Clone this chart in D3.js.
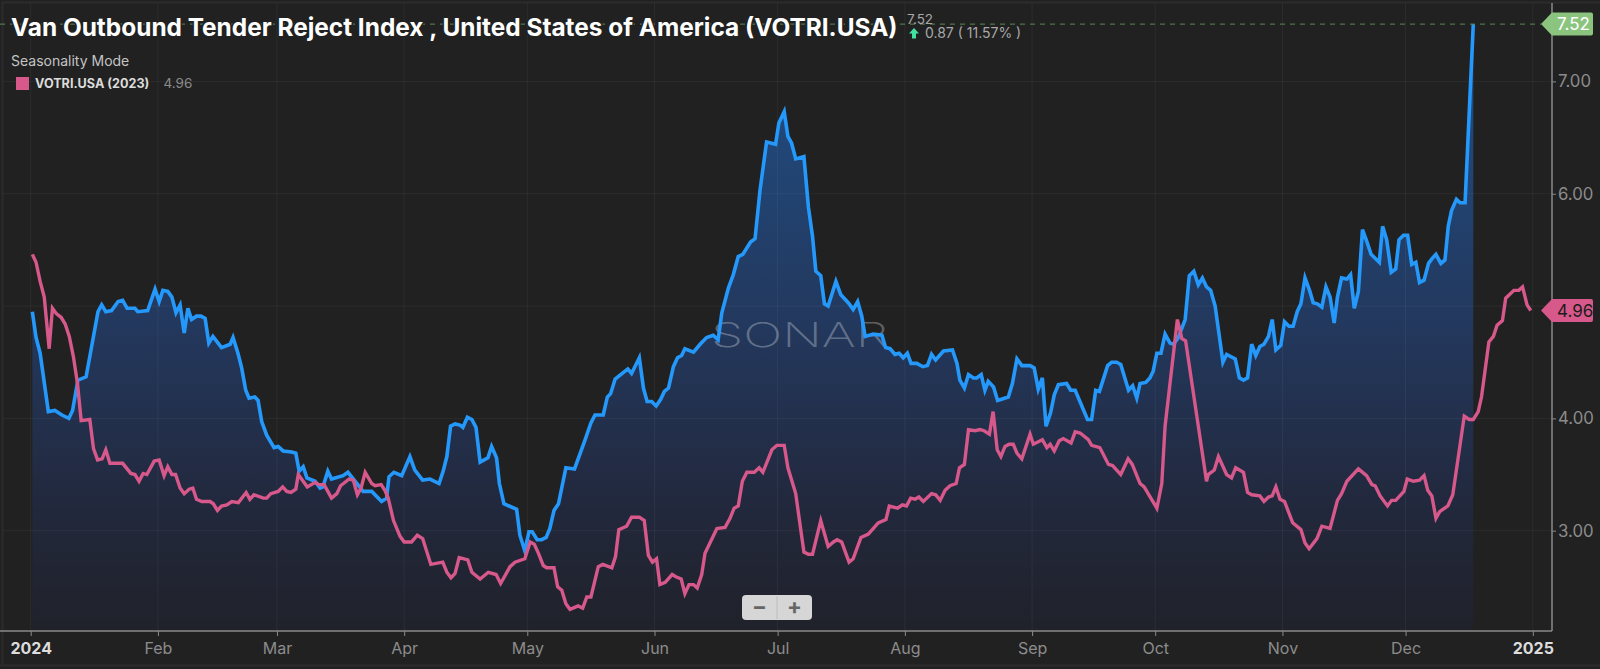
<![CDATA[<!DOCTYPE html>
<html>

<head>
    <meta charset="utf-8">
    <script src="https://cdnjs.cloudflare.com/ajax/libs/d3/7.8.5/d3.min.js"></script>
    <style>
        html, body {
            margin: 0;
            padding: 0;
            background: #212121;
            overflow: hidden;
        }

        text {
            font-family: Inter, Roboto, sans-serif;
        }

        .axis .domain {
            stroke: #8a8a8a;
            stroke-width: 1.5;
        }

        .axis .tick line {
            stroke: #8a8a8a;
        }

        .axis .tick text {
            fill: #8c8c8c;
            font-size: 16px;
        }

        .yaxis .tick text {
            font-size: 16.8px;
        }
    </style>
</head>

<body>
    <div id="chartContainer"></div>
    <script type="text/javascript">
        // values read off the picture, days are counted from 1 Jan 2024
        var blueDays = [0.4, 1.3, 2.3, 4.3, 5.9, 7.6, 9.3, 10.2, 11.5, 13.5, 16.4, 17.3, 18.3, 19.7, 21.3, 22.4, 23.5, 25.4, 26.1, 28.5, 30.3, 31.3, 32.2, 33.4, 34.4, 35.4, 36.4, 37.4, 38.3, 39.2, 40.4, 41.5, 42.5, 43.4, 44.4, 46.5, 48.6, 49.3, 50.5, 51.4, 52.4, 53.2, 54.6, 55.4, 56.3, 57.5, 59.3, 60.3, 61.5, 63.6, 64.6, 65.4, 66.4, 67.3, 69.3, 70.5, 71.2, 72.4, 73.3, 76.1, 77.3, 81, 83.1, 85.5, 86.7, 87.3, 88.5, 90.4, 92.4, 93.6, 95.5, 97.3, 99.5, 100.5, 101.4, 102.3, 103.4, 104.6, 105.3, 106.4, 107.5, 108.5, 109.5, 111.4, 112.3, 113.5, 114.2, 115.3, 118.4, 119.2, 120.4, 121.4, 122.2, 123.4, 124.5, 125.6, 126.5, 127.5, 128.6, 130.4, 132.5, 135.1, 136.5, 137.5, 139.5, 140.5, 141.3, 142.4, 145.5, 146.4, 148.3, 149.3, 150.2, 151.3, 152.4, 153.5, 154.4, 155.4, 156.6, 157.6, 158.6, 159.4, 161.5, 163.1, 164.7, 166.3, 167.5, 168.4, 170, 171.2, 172.4, 173.5, 175.4, 176.5, 177.7, 179.3, 181.5, 182.3, 183.6, 184.5, 185.4, 186.4, 188.4, 189.5, 190.5, 191.3, 192.5, 193.4, 194.3, 196.2, 197.4, 199.2, 200.4, 201.5, 202.5, 203.3, 205.3, 207.4, 208.3, 209.4, 210.6, 211.6, 212.6, 213.6, 214.5, 215.9, 217.4, 218.5, 219.5, 220.5, 222.4, 224.6, 225.7, 226.4, 227.5, 228.5, 229.7, 230.5, 231.6, 232.5, 233.3, 234.6, 235.6, 238.2, 239.2, 240.3, 241.5, 243.5, 244.5, 245.5, 246.5, 247.4, 248.5, 249.4, 250.4, 252.4, 253.4, 254.5, 257.5, 258.5, 259.5, 260.4, 262.4, 263.4, 264.6, 265.6, 267.5, 268.5, 269.5, 270.3, 271.7, 272.7, 273.5, 274.4, 275.4, 276.4, 277.6, 278.4, 279.5, 281.3, 282.3, 283.4, 284.5, 285.5, 286.5, 287.5, 288.6, 290.5, 291.4, 293.5, 294.5, 295.5, 296.5, 297.5, 298.5, 299.5, 300.5, 301.6, 302.5, 303.4, 304.6, 305.5, 306.6, 307.6, 308.6, 309.5, 310.5, 311.6, 312.5, 313.5, 314.6, 315.6, 316.6, 317.6, 318.4, 319.4, 320.7, 321.6, 322.5, 323.5, 324.5, 325.5, 326.6, 328.6, 329.4, 330.4, 331.5, 332.6, 333.4, 334.5, 335.5, 336.5, 337.5, 338.4, 339.5, 340.6, 341.4, 342.4, 343.6, 344.6, 345.4, 346.2, 347.4, 348.3, 349.5, 351.5];
        var blueValues = [4.95, 4.72, 4.58, 4.06, 4.07, 4.03, 4.00, 4.07, 4.34, 4.37, 4.95, 5.01, 4.95, 4.96, 5.04, 5.05, 4.98, 4.98, 4.95, 4.96, 5.15, 5.04, 5.14, 5.13, 5.08, 4.94, 5.01, 4.76, 4.98, 4.88, 4.91, 4.91, 4.89, 4.67, 4.73, 4.63, 4.66, 4.72, 4.58, 4.45, 4.25, 4.18, 4.19, 4.16, 3.97, 3.85, 3.74, 3.75, 3.71, 3.70, 3.69, 3.53, 3.57, 3.47, 3.44, 3.38, 3.39, 3.53, 3.46, 3.49, 3.52, 3.35, 3.35, 3.26, 3.29, 3.48, 3.52, 3.49, 3.66, 3.54, 3.45, 3.46, 3.42, 3.53, 3.66, 3.93, 3.95, 3.94, 3.92, 4.01, 3.99, 3.92, 3.61, 3.65, 3.75, 3.65, 3.42, 3.24, 3.19, 2.96, 2.82, 2.99, 2.99, 2.92, 2.92, 2.94, 3.02, 3.18, 3.24, 3.56, 3.55, 3.81, 3.96, 4.03, 4.03, 4.19, 4.22, 4.35, 4.44, 4.40, 4.54, 4.27, 4.15, 4.15, 4.11, 4.17, 4.24, 4.27, 4.46, 4.54, 4.56, 4.62, 4.59, 4.66, 4.72, 4.74, 4.70, 4.94, 5.16, 5.28, 5.44, 5.46, 5.57, 5.60, 6.03, 6.46, 6.44, 6.63, 6.73, 6.51, 6.45, 6.31, 6.33, 5.88, 5.62, 5.31, 5.27, 5.02, 5.00, 5.22, 5.10, 5.03, 4.97, 5.04, 4.91, 4.73, 4.75, 4.74, 4.63, 4.62, 4.57, 4.58, 4.54, 4.58, 4.49, 4.49, 4.46, 4.47, 4.57, 4.52, 4.60, 4.61, 4.49, 4.34, 4.27, 4.39, 4.36, 4.36, 4.39, 4.25, 4.33, 4.28, 4.16, 4.19, 4.31, 4.53, 4.47, 4.47, 4.45, 4.26, 4.36, 3.93, 4.05, 4.21, 4.30, 4.31, 4.25, 4.25, 3.99, 3.99, 4.25, 4.24, 4.47, 4.50, 4.50, 4.48, 4.25, 4.29, 4.18, 4.31, 4.32, 4.36, 4.42, 4.58, 4.58, 4.75, 4.67, 4.66, 4.71, 4.88, 5.27, 5.31, 5.19, 5.25, 5.17, 5.14, 5.00, 4.50, 4.57, 4.53, 4.36, 4.34, 4.36, 4.66, 4.56, 4.64, 4.66, 4.73, 4.88, 4.61, 4.65, 4.86, 4.82, 4.82, 4.95, 5.02, 5.25, 5.14, 5.03, 5.02, 4.99, 5.17, 5.08, 4.85, 5.08, 5.25, 5.24, 5.28, 4.98, 5.13, 5.68, 5.58, 5.46, 5.39, 5.71, 5.59, 5.30, 5.33, 5.59, 5.63, 5.63, 5.37, 5.39, 5.21, 5.23, 5.38, 5.42, 5.46, 5.38, 5.41, 5.71, 5.85, 5.95, 5.92, 5.92, 7.51];

        var redDays = [0.4, 1.3, 2.3, 3.3, 4.5, 5.3, 6.3, 7.4, 8.4, 9.4, 10.4, 11.4, 12.3, 14.4, 15.3, 16.3, 17.4, 18.3, 19.3, 22.4, 24.4, 25.4, 26.4, 27.4, 28.3, 30.1, 31.3, 32.5, 33.4, 34.4, 35.3, 36.4, 37.4, 38.6, 39.5, 40.4, 41.7, 43.7, 44.5, 45.5, 46.5, 47.8, 49, 50.6, 52.5, 53.4, 54.4, 56.7, 57.5, 58.5, 60.3, 61.4, 62.4, 63.4, 64.6, 65.2, 67.4, 69.3, 70.2, 71.5, 73.3, 74.6, 75.5, 77.6, 78.6, 79.6, 80.5, 81.5, 83.1, 83.9, 85.4, 86.3, 87.1, 88.4, 90, 91, 92.8, 94.2, 95.5, 97.5, 100.4, 101.4, 102.4, 103.4, 104.4, 106.5, 107.5, 109.5, 111.5, 113.4, 114.5, 116.8, 118, 120.4, 121.7, 122.7, 123.7, 124.9, 125.7, 127.5, 128.4, 129.4, 130.4, 131.4, 133.4, 134.5, 135.5, 136.5, 138.3, 139.4, 141.6, 142.5, 143.3, 145.2, 146.4, 148.3, 149.5, 150.5, 151.5, 152.5, 153.3, 154.6, 156.3, 157.2, 158.5, 159.4, 160.4, 161.5, 162.4, 163.5, 164.3, 165.5, 167.2, 169.2, 170.4, 171.4, 172.4, 173.4, 174.5, 176.3, 177.5, 178.4, 180.6, 181.8, 183.6, 184.5, 186.4, 188.4, 189.5, 190.5, 192.5, 194.3, 195.6, 196.5, 197.6, 199.4, 200.4, 202.3, 204.1, 206.5, 208.4, 209.2, 211.2, 212.4, 213.4, 214.4, 215.5, 216.4, 217.5, 219.5, 220.5, 221.6, 222.8, 224, 225.5, 226.3, 227.5, 228.5, 230.1, 231.3, 232.3, 233.6, 234.5, 235.5, 236.4, 237.4, 238.4, 239.4, 240.3, 241.5, 243.5, 244.3, 246.5, 247.6, 248.4, 249.4, 250.6, 251.6, 253.5, 254.5, 255.7, 257.7, 258.5, 260.5, 262.6, 263.6, 265.6, 267.4, 268.4, 270.3, 271.3, 274.4, 275.6, 276.4, 279.4, 280.5, 281.4, 286.5, 286.9, 288.4, 289.4, 291.4, 292.6, 293.6, 295.5, 296.5, 297.5, 299.5, 300.5, 301.6, 302.5, 303.4, 304.4, 305.5, 307.5, 309.5, 310.5, 311.5, 313.4, 314.6, 316.6, 318.4, 319.4, 320.7, 323.5, 325.5, 326.8, 327.6, 328.8, 330.6, 331.6, 332.6, 334.6, 335.4, 336.9, 338.4, 339.5, 340.4, 341.4, 342.4, 343.3, 345.3, 346.5, 349.3, 350.5, 351.5, 352.7, 353.5, 355.3, 356.4, 357.3, 358.6, 359.4, 361.4, 362.6, 363.5, 364.6, 365.5];
        var redValues = [5.46, 5.39, 5.22, 5.08, 4.62, 4.98, 4.93, 4.90, 4.84, 4.73, 4.55, 4.31, 3.98, 3.99, 3.73, 3.63, 3.64, 3.72, 3.60, 3.60, 3.51, 3.50, 3.44, 3.51, 3.50, 3.62, 3.63, 3.49, 3.57, 3.50, 3.50, 3.38, 3.33, 3.37, 3.38, 3.28, 3.26, 3.26, 3.24, 3.18, 3.22, 3.23, 3.26, 3.25, 3.34, 3.28, 3.32, 3.29, 3.29, 3.33, 3.35, 3.39, 3.35, 3.34, 3.37, 3.50, 3.39, 3.43, 3.41, 3.41, 3.29, 3.33, 3.40, 3.46, 3.45, 3.32, 3.38, 3.52, 3.42, 3.40, 3.41, 3.36, 3.29, 3.09, 2.95, 2.90, 2.90, 2.96, 2.93, 2.70, 2.72, 2.63, 2.58, 2.62, 2.76, 2.74, 2.63, 2.57, 2.63, 2.61, 2.53, 2.68, 2.72, 2.75, 2.90, 2.88, 2.80, 2.69, 2.67, 2.67, 2.50, 2.47, 2.35, 2.30, 2.33, 2.31, 2.41, 2.41, 2.68, 2.70, 2.67, 2.77, 3.01, 3.04, 3.12, 3.12, 3.09, 2.78, 2.72, 2.75, 2.52, 2.54, 2.61, 2.59, 2.57, 2.44, 2.52, 2.52, 2.49, 2.61, 2.80, 2.89, 3.02, 3.03, 3.11, 3.20, 3.22, 3.44, 3.52, 3.52, 3.56, 3.52, 3.72, 3.76, 3.76, 3.56, 3.33, 2.81, 2.79, 2.79, 3.09, 2.86, 2.90, 2.92, 2.90, 2.72, 2.75, 2.94, 2.97, 3.07, 3.10, 3.22, 3.20, 3.23, 3.22, 3.29, 3.28, 3.30, 3.26, 3.33, 3.32, 3.27, 3.36, 3.40, 3.42, 3.56, 3.59, 3.90, 3.89, 3.90, 3.89, 3.86, 4.06, 3.72, 3.66, 3.75, 3.77, 3.77, 3.69, 3.64, 3.86, 3.77, 3.81, 3.74, 3.77, 3.71, 3.80, 3.82, 3.78, 3.88, 3.87, 3.81, 3.76, 3.74, 3.59, 3.58, 3.50, 3.64, 3.59, 3.42, 3.39, 3.20, 3.42, 3.93, 4.88, 4.71, 4.69, 3.44, 3.50, 3.54, 3.66, 3.50, 3.47, 3.56, 3.52, 3.34, 3.32, 3.31, 3.26, 3.30, 3.31, 3.39, 3.28, 3.26, 3.07, 3.01, 2.89, 2.84, 2.93, 3.04, 3.02, 3.27, 3.33, 3.44, 3.55, 3.49, 3.41, 3.40, 3.31, 3.22, 3.27, 3.27, 3.35, 3.46, 3.44, 3.45, 3.49, 3.36, 3.31, 3.11, 3.17, 3.22, 3.32, 4.02, 3.99, 3.99, 4.06, 4.19, 4.68, 4.73, 4.83, 4.87, 5.07, 5.14, 5.14, 5.17, 5.01, 4.96];

        var yTicks = [3, 4, 5, 6, 7];
        var titleText = "Van Outbound Tender Reject Index , United States of America (VOTRI.USA)";
        var legendName = "VOTRI.USA (2023)";
        var lastBlue = "7.52";
        var lastRed = "4.96";
        var changeText = "0.87 ( 11.57% )";

        var width = 1600, height = 669;
        var bg = "#212121", blue = "#2499fb", pink = "#d7588a";
        var t0 = Date.UTC(2024, 0, 1);
        function toDate(d) { return new Date(t0 + d * 864e5); }

        var x = d3.scaleUtc().domain([toDate(0), toDate(366)]).range([30.7, 1532.8]);
        var y = d3.scaleLinear().domain([3, 7]).range([530.7, 81.4]);

        var svg = d3.select("#chartContainer").append("svg")
            .attr("width", width).attr("height", height)
            .style("display", "block");

        var grad = svg.append("defs").append("linearGradient")
            .attr("id", "blueFade")
            .attr("gradientUnits", "userSpaceOnUse")
            .attr("x1", 0).attr("x2", 0).attr("y1", 23).attr("y2", 631);
        [[0, "#1f5690"], [0.2, "#214676"], [0.5, "#23385d"], [0.8, "#22283c"], [1, "#20222a"]].forEach(function (s) {
            grad.append("stop").attr("offset", s[0]).attr("stop-color", s[1]);
        });

        // frame
        svg.append("path").attr("d", "M2.5,666V2.5H1600M0,665.5H1600")
            .attr("fill", "none").attr("stroke", "#2c2c2c").attr("stroke-width", 2);

        var blueData = blueDays.map(function (d, i) { return { date: toDate(d), value: blueValues[i] }; });
        var redData = redDays.map(function (d, i) { return { date: toDate(d), value: redValues[i] }; });

        var months = d3.utcMonth.range(toDate(0), toDate(367));

        // area first, grid shows through it
        var area = d3.area()
            .x(function (d) { return x(d.date); })
            .y0(631)
            .y1(function (d) { return y(d.value); });
        svg.append("path").datum(blueData).attr("d", area).attr("fill", "url(#blueFade)");

        svg.append("g").selectAll("line").data(months).enter().append("line")
            .attr("x1", function (d) { return x(d); }).attr("x2", function (d) { return x(d); })
            .attr("y1", 3).attr("y2", 631)
            .attr("stroke", "#fff").attr("stroke-opacity", 0.05);
        svg.append("g").selectAll("line").data(yTicks).enter().append("line")
            .attr("x1", 3).attr("x2", 1552)
            .attr("y1", function (d) { return y(d); }).attr("y2", function (d) { return y(d); })
            .attr("stroke", "#fff").attr("stroke-opacity", 0.05);

        // axes, the 5.00 label sits under the pink price tag so it is left blank
        var yAxis = d3.axisRight(y).tickValues(yTicks).tickSize(4).tickPadding(2)
            .tickFormat(function (d) { return d === 5 ? "" : d3.format(".2f")(d); });
        svg.append("g").attr("class", "axis yaxis").attr("transform", "translate(1552,0)").call(yAxis)
            .select(".domain").attr("d", "M0,3V631");

        var xAxis = d3.axisBottom(x).tickValues(months).tickSize(5).tickPadding(7)
            .tickFormat(function (d) { return d.getUTCMonth() === 0 ? d3.utcFormat("%Y")(d) : d3.utcFormat("%b")(d); });
        var xG = svg.append("g").attr("class", "axis").attr("transform", "translate(0,631)").call(xAxis);
        xG.select(".domain").attr("d", "M0,0H1552");
        xG.selectAll(".tick text")
            .filter(function (d) { return d.getUTCMonth() === 0; })
            .style("font-weight", 700).style("fill", "#dcdcdc");

        // watermark
        svg.append("text").attr("x", 711).attr("y", 347)
            .attr("textLength", 177).attr("lengthAdjust", "spacingAndGlyphs")
            .style("font-size", "34px").style("font-weight", 200).style("fill", "#fff").style("fill-opacity", 0.3)
            .text("SONAR");

        // series
        var line = d3.line()
            .x(function (d) { return x(d.date); })
            .y(function (d) { return y(d.value); });
        svg.append("path").datum(blueData).attr("d", line)
            .attr("fill", "none").attr("stroke", blue).attr("stroke-width", 3.6);
        svg.append("path").datum(redData).attr("d", line)
            .attr("fill", "none").attr("stroke", pink).attr("stroke-width", 3.4);

        // last price line
        var blueLast = blueValues[blueValues.length - 1], redLast = redValues[redValues.length - 1];
        svg.append("line").attr("x1", 0).attr("x2", 1541)
            .attr("y1", y(blueLast)).attr("y2", y(blueLast))
            .attr("stroke", "#5c8a55").attr("stroke-width", 1).attr("stroke-dasharray", "5,5");

        function tag(v, color, label, textColor) {
            var cy = y(v);
            svg.append("path")
                .attr("d", "M1541," + cy + "L1552," + (cy - 11.5) + "H1591q2,0 2,2V" + (cy + 9.5) + "q0,2 -2,2H1552Z")
                .attr("fill", color);
            svg.append("text").attr("x", 1557).attr("y", cy).attr("dy", "0.36em")
                .style("font-size", "17px").style("fill", textColor).text(label);
        }
        tag(blueLast, "#8ac47e", lastBlue, "#ffffff");
        tag(redLast, pink, lastRed, "#1c1c1c");

        // header
        svg.append("text").attr("x", 11).attr("y", 36)
            .style("font-size", "24.4px").style("font-weight", 700).style("fill", "#fff")
            .style("paint-order", "stroke").style("stroke", bg).style("stroke-width", 3)
            .text(titleText);
        svg.append("text").attr("x", 907).attr("y", 24)
            .style("font-size", "13.5px").style("fill", "#a8a8a8").text(lastBlue);
        svg.append("path").attr("d", "M914,28L919,33.5H916V38.5H912V33.5H909Z").attr("fill", "#3fe3a0");
        svg.append("text").attr("x", 925).attr("y", 38)
            .style("font-size", "14px").style("fill", "#a8a8a8").text(changeText);

        svg.append("text").attr("x", 11).attr("y", 66)
            .style("font-size", "14px").style("fill", "#c4c4c4").text("Seasonality Mode");
        svg.append("rect").attr("x", 16).attr("y", 77).attr("width", 13).attr("height", 13).attr("fill", pink);
        svg.append("text").attr("x", 35).attr("y", 88)
            .style("font-size", "12.6px").style("font-weight", 700).style("fill", "#dcdcdc").text(legendName);
        svg.append("text").attr("x", 163.5).attr("y", 88)
            .style("font-size", "13.5px").style("fill", "#8c8c8c").text(lastRed);

        // zoom control
        var zoomG = svg.append("g").attr("transform", "translate(742,595)");
        zoomG.append("rect").attr("width", 70).attr("height", 25).attr("rx", 4).attr("fill", "#d6d6d6");
        zoomG.append("line").attr("x1", 35).attr("x2", 35).attr("y1", 1).attr("y2", 24).attr("stroke", "#bcbcbc");
        zoomG.append("text").attr("x", 17.5).attr("y", 19).attr("text-anchor", "middle")
            .style("font-size", "22px").style("font-weight", 700).style("fill", "#666").text("\u2212");
        zoomG.append("text").attr("x", 52.5).attr("y", 19).attr("text-anchor", "middle")
            .style("font-size", "22px").style("font-weight", 700).style("fill", "#666").text("+");
    </script>

</body>

</html>
]]>
